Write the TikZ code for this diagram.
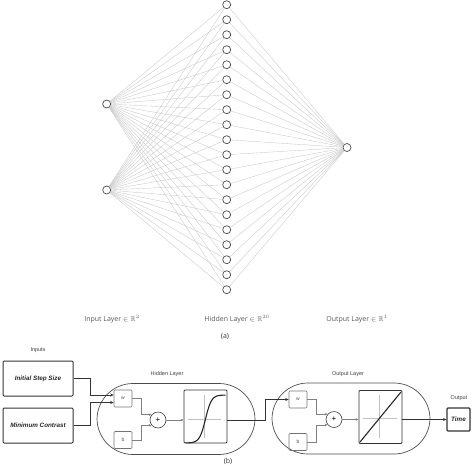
\documentclass[tikz,border=0pt]{standalone}
\usepackage{fontspec}
\usepackage{amssymb}
\setmainfont{Open Sans}
\newfontfamily\arialf{Liberation Sans}
\usetikzlibrary{arrows.meta}
\begin{document}
\begin{tikzpicture}[x=1pt,y=-1pt,
  neuron/.style={circle,draw=black!70,line width=0.7pt,fill=white,minimum size=8pt,inner sep=0pt},
  conn/.style={draw=black!22,line width=0.35pt},
  lbl/.style={text=black!65,font=\fontsize{7}{8}\selectfont,inner sep=0pt},
  sublbl/.style={text=black!80,font=\fontsize{7}{8}\selectfont,inner sep=0pt},
  blbl/.style={text=black!75,font=\arialf\fontsize{5.5}{6}\selectfont,inner sep=0pt},
  inbox/.style={draw=black!80,line width=1pt,rounded corners=1pt,font=\arialf\bfseries\itshape\fontsize{6.3}{7}\selectfont,text=black!85,minimum width=70pt,minimum height=35pt,inner sep=0pt},
  stad/.style={draw=black!70,line width=0.7pt,rounded corners=36pt,minimum width=158pt,minimum height=71pt,inner sep=0pt},
  wb/.style={draw=black!55,line width=0.6pt,rounded corners=1pt,minimum width=18pt,minimum height=17pt,inner sep=0pt,font=\arialf\fontsize{5}{6}\selectfont,text=black!70},
  plus/.style={circle,draw=black!75,line width=0.6pt,minimum size=16pt,inner sep=0pt,font=\arialf\fontsize{8}{8}\selectfont},
  actbox/.style={draw=black!80,line width=0.9pt,rounded corners=1pt,minimum width=43pt,minimum height=53pt,inner sep=0pt},
  thin/.style={draw=black!50,line width=0.5pt},
  thinarr/.style={thin,-{Stealth[length=3pt,width=2.5pt]}},
  darkarr/.style={draw=black!80,line width=0.8pt,-{Stealth[length=3.5pt,width=3pt]}},
  axis/.style={draw=black!25,line width=0.4pt}]
\useasboundingbox (0,0) rectangle (474,466);
% ---------- (a) ----------
\node[neuron] (i1) at (106.7,104) {};
\node[neuron] (i2) at (106.7,190) {};
\foreach \k in {1,...,20} {\node[neuron] (h\k) at (226.7,{4.7+15*(\k-1)}) {};}
\node[neuron] (o) at (347,147.5) {};
\foreach \k in {1,...,20} {
  \draw[conn] (i1) -- (h\k);
  \draw[conn] (i2) -- (h\k);
  \draw[conn] (h\k) -- (o);
}
\node[lbl] (la) at (112,319) {Input Layer $\in\mathbb{R}^2$};
\node[lbl] (lb) at (237,319) {Hidden Layer $\in\mathbb{R}^{20}$};
\node[lbl] (lc) at (357,319) {Output Layer $\in\mathbb{R}^1$};
\node[sublbl] (capa) at (225,337) {(a)};
% ---------- (b) ----------
\node[blbl] (inl) at (38,350) {Inputs};
\node[inbox] (iss) at (38,378.5) {Initial Step Size};
\node[inbox] (mc) at (38,425.5) {Minimum Contrast};
\node[stad] (hl) at (176,419) {};
\node[stad] (ol) at (351,418.5) {};
\node[blbl] (hll) at (167,374) {Hidden Layer};
\node[blbl] (oll) at (348,374) {Output Layer};
\node[blbl] (outl) at (459,398) {Output};
% hidden layer internals
\node[wb] (hw) at (123,398.5) {w};
\node[wb] (hb) at (123,440) {b};
\node[plus] (hp) at (158,420) {+};
\node[actbox] (hs) at (205.5,416.5) {};
% output layer internals
\node[wb] (ow) at (298,399.5) {w};
\node[wb] (ob) at (298,442) {b};
\node[plus] (op) at (334,419.5) {+};
\node[actbox] (olin) at (380.5,417) {};
\node[inbox,minimum width=23pt,minimum height=23pt,line width=1.1pt] (t) at (458.5,419.5) {Time};
\node[sublbl] (capb) at (228,461) {(b)};
% input connectors
\draw[darkarr] (iss.east) -- ++(17,0) |- ([yshift=3.5pt]hw.west);
\draw[darkarr] (mc.east) -- ++(17,0) |- ([yshift=-4pt]hw.west);
% hidden internals
\draw[thinarr] (hw.east) -- ++(9,0) |- (hp.140);
\draw[thinarr] (hb.east) -- ++(9,0) |- (hp.220);
\draw[thinarr] (hp.east) -- (hp.east -| hs.west);
\draw[axis] (204.5,395) -- (204.5,438);
\draw[axis] (188,419) -- (221,419);
\draw[black!85,line width=1.1pt] plot[domain=185.5:225.5,samples=60,smooth] ({\x},{419-24*tanh((\x-205.5)/6)});
% hidden -> output
\draw[darkarr] (hp.east -| hs.east) -- ++(38,0) |- (ow.west);
% output internals
\draw[thinarr] (ow.east) -- ++(9,0) |- (op.140);
\draw[thinarr] (ob.east) -- ++(9,0) |- (op.220);
\draw[thinarr] (op.east) -- (op.east -| olin.west);
\draw[axis] (379,395) -- (379,438);
\draw[axis] (363,418) -- (397,418);
\draw[black!85,line width=1.1pt] (360,442) -- (401,392);
\draw[darkarr] (op.east -| olin.east) -- (t.west);
\end{tikzpicture}
\end{document}
